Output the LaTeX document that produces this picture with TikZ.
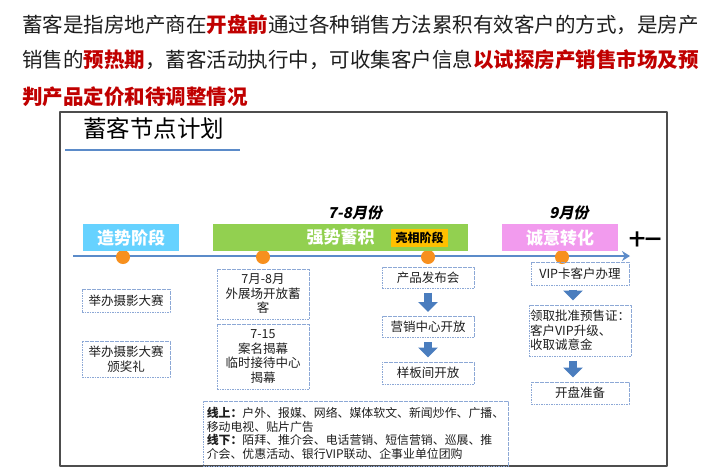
\documentclass[tikz,border=0pt]{standalone}
\usepackage{fontspec}
\setmainfont{Noto Sans CJK SC}
\newfontfamily\monthfont[FakeSlant=0.2]{Noto Sans CJK SC}
\definecolor{leadred}{HTML}{C00000}
\definecolor{bodytext}{HTML}{1E1E1E}
\definecolor{frameedge}{HTML}{4D4D4D}
\definecolor{lineblue}{HTML}{5B8BC9}
\definecolor{arrowblue}{HTML}{4A7DBE}
\definecolor{dotorange}{HTML}{F7901E}
\definecolor{boxedge}{HTML}{8CA8D6}
\definecolor{warmcyan}{HTML}{66D2FF}
\definecolor{buildgreen}{HTML}{92D050}
\definecolor{debutyellow}{HTML}{FFC000}
\definecolor{convertpink}{HTML}{F29BEE}
\usetikzlibrary{arrows.meta,positioning,calc}

\begin{document}
\begin{tikzpicture}[
  x=1pt,
  y=-1pt,
  line join=round,
  leadline/.style={anchor=west,inner sep=0pt,text=bodytext,font=\fontsize{20.5}{22}\selectfont},
  timeline/.style={draw=lineblue,line width=1.8pt,-{Stealth[length=8pt,width=10pt]}},
  stagedot/.style={circle,fill=dotorange,draw=none,minimum size=14pt,inner sep=0pt},
  phase/.style={rectangle,draw=none,inner sep=0pt,minimum height=27pt,text=white,
    font=\fontsize{17}{19}\selectfont\bfseries},
  monthlabel/.style={inner sep=0pt,font=\fontsize{15}{17}\selectfont\monthfont\bfseries},
  eventbox/.style={rectangle,draw=boxedge,line width=1pt,dash pattern=on 1.6pt off 0.9pt,
    inner sep=1pt,align=center,font=\fontsize{12.5}{14.5}\selectfont,text=bodytext},
  blockarrow/.style={draw=arrowblue,line width=8.5pt,shorten <=4pt,shorten >=4pt,
    -{Triangle[length=10pt,width=19pt]}}
]
  \useasboundingbox (0,0) rectangle (708,474);

  % lead paragraph
  \node[leadline] (lead1) at (22,25) {蓄客是指房地产商在\textcolor{leadred}{\bfseries 开盘前}通过各种销售方法累积有效客户的方式，是房产};
  \node[leadline] (lead2) at (22,60) {销售的\textcolor{leadred}{\bfseries 预热期}，蓄客活动执行中，可收集客户信息\textcolor{leadred}{\bfseries 以试探房产销售市场及预}};
  \node[leadline,text=leadred,font=\fontsize{20.5}{22}\selectfont\bfseries] (lead3) at (22,97) {判产品定价和待调整情况};

  % slide frame and heading
  \draw[frameedge,line width=1.6pt] (60,112) rectangle (667,466);
  \node[anchor=west,inner sep=0pt,font=\fontsize{23.5}{25}\selectfont] (heading) at (83,128) {蓄客节点计划};
  \draw[lineblue,line width=2pt] (65,150) -- (240,150);

  % timeline
  \coordinate (tstart) at (73,256);
  \coordinate (tend) at (630,256);
  \draw[timeline] (tstart) -- (tend);
  \node[stagedot] (dot1) at (123,257) {};
  \node[stagedot] (dot2) at (263,257) {};
  \node[stagedot] (dot3) at (428,257) {};
  \node[stagedot] (dot4) at (562,257) {};

  % phases
  \node[phase,fill=warmcyan,minimum width=96pt] (warmup) at (131,237.5) {造势阶段};
  \node[phase,fill=buildgreen,minimum width=255pt] (buildup) at (340.5,237.5) {强势蓄积};
  \node[phase,fill=debutyellow,minimum width=57pt,minimum height=18pt,text=black,
    font=\fontsize{12}{14}\selectfont\bfseries] (debut) at (419.5,238) {亮相阶段};
  \node[phase,fill=convertpink,minimum width=116pt] (convert) at (560,237.5) {诚意转化};
  \node[inner sep=0pt,font=\fontsize{16}{18}\selectfont\bfseries] (nextmonth) at (645,239) {十一};
  \node[monthlabel] (julaug) at (355,213) {7-8月份};
  \node[monthlabel] (sept) at (569,213) {9月份};

  % events
  \node[eventbox,minimum width=88pt,minimum height=23pt] (contest) at (126,300.5) {举办摄影大赛};
  \node[eventbox,minimum width=88pt,minimum height=36pt] (award) at (126,359) {举办摄影大赛\\颁奖礼};
  \node[eventbox,minimum width=92pt,minimum height=50pt] (expo) at (263,294) {7月-8月\\外展场开放蓄\\客};
  \node[eventbox,minimum width=92pt,minimum height=65pt] (unveil) at (263,356.5) {7-15\\案名揭幕\\临时接待中心\\揭幕};
  \node[eventbox,minimum width=305pt,minimum height=65pt,align=left,inner xsep=2pt,
    font=\fontsize{11.9}{13.5}\selectfont] (media) at (355.5,433.5)
    {\textbf{线上：}户外、报媒、网络、媒体软文、新闻炒作、广播、\\移动电视、贴片广告\\\textbf{线下：}陌拜、推介会、电话营销、短信营销、巡展、推\\介会、优惠活动、银行VIP联动、企事业单位团购};

  \node[eventbox,minimum width=92pt,minimum height=21pt] (launch) at (428,277.5) {产品发布会};
  \node[eventbox,minimum width=92pt,minimum height=21pt] (salescentre) at (428,327) {营销中心开放};
  \node[eventbox,minimum width=92pt,minimum height=22pt] (showflat) at (428,373) {样板间开放};

  \node[eventbox,minimum width=98pt,minimum height=23pt] (vipcard) at (580,273.5) {VIP卡客户办理};
  \node[eventbox,minimum width=98pt,minimum height=51pt,align=left] (permit) at (580,330.5) {领取批准预售证：\\客户VIP升级、\\收取诚意金};
  \node[eventbox,minimum width=98pt,minimum height=22pt] (opening) at (580,393) {开盘准备};

  \draw[blockarrow] (launch) -- (salescentre);
  \draw[blockarrow] (salescentre) -- (showflat);
  \draw[blockarrow] ([xshift=-7pt]vipcard.south) -- ([xshift=-7pt]permit.north);
  \draw[blockarrow] ([xshift=-7pt]permit.south) -- ([xshift=-7pt]opening.north);
\end{tikzpicture}
\end{document}
